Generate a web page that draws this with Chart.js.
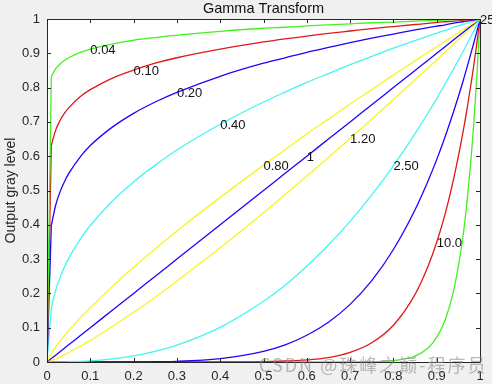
<!DOCTYPE html>
<html>
<head>
<meta charset="utf-8">
<script src="https://cdn.jsdelivr.net/npm/chart.js@4"></script>
<style>
  html, body { margin: 0; padding: 0; background: #f0f0f0; }
  #wrap { width: 492px; height: 384px; position: relative; }
</style>
</head>
<body>
<div id="wrap"><canvas id="gammaChart"></canvas></div>
<script>
// input gray levels where each curve was read
const inputLevels = [0, 0.01, 0.02, 0.03, 0.04, 0.05, 0.08, 0.1, 0.15, 0.2, 0.25, 0.3, 0.4, 0.5, 0.55,
    0.6, 0.65, 0.7, 0.75, 0.8, 0.85, 0.88, 0.9, 0.92, 0.94, 0.96, 0.97, 0.98, 0.985, 0.99, 0.995, 1];

// output gray level for every gamma value
const outG004 = [0, 0.832, 0.855, 0.869, 0.879, 0.887, 0.904, 0.912, 0.927, 0.938, 0.946, 0.953, 0.964, 0.973, 0.976,
    0.980, 0.983, 0.986, 0.989, 0.991, 0.994, 0.995, 0.996, 0.997, 0.998, 0.998, 0.999, 0.999, 0.999, 1.0, 1.0, 1];
const outG010 = [0, 0.631, 0.676, 0.704, 0.725, 0.741, 0.777, 0.794, 0.827, 0.851, 0.871, 0.887, 0.912, 0.933, 0.942,
    0.950, 0.958, 0.965, 0.972, 0.978, 0.984, 0.987, 0.990, 0.992, 0.994, 0.996, 0.997, 0.998, 0.998, 0.999, 0.999, 1];
const outG020 = [0, 0.398, 0.457, 0.496, 0.525, 0.549, 0.603, 0.631, 0.684, 0.725, 0.758, 0.786, 0.833, 0.871, 0.887,
    0.903, 0.917, 0.931, 0.944, 0.956, 0.968, 0.975, 0.979, 0.983, 0.988, 0.992, 0.994, 0.996, 0.997, 0.998, 0.999, 1];
const outG040 = [0, 0.158, 0.209, 0.246, 0.276, 0.302, 0.364, 0.398, 0.468, 0.525, 0.574, 0.618, 0.693, 0.758, 0.787,
    0.815, 0.841, 0.867, 0.891, 0.915, 0.937, 0.950, 0.959, 0.967, 0.976, 0.984, 0.988, 0.992, 0.994, 0.996, 0.998, 1];
const outG080 = [0, 0.025, 0.044, 0.061, 0.076, 0.091, 0.133, 0.158, 0.219, 0.276, 0.330, 0.382, 0.480, 0.574, 0.619,
    0.665, 0.708, 0.752, 0.794, 0.837, 0.878, 0.903, 0.919, 0.935, 0.952, 0.968, 0.976, 0.984, 0.988, 0.992, 0.996, 1];
const outG100 = [0, 0.01, 0.02, 0.03, 0.04, 0.05, 0.08, 0.1, 0.15, 0.2, 0.25, 0.3, 0.4, 0.5, 0.55,
    0.6, 0.65, 0.7, 0.75, 0.8, 0.85, 0.88, 0.9, 0.92, 0.94, 0.96, 0.97, 0.98, 0.985, 0.99, 0.995, 1];
const outG120 = [0, 0.004, 0.009, 0.015, 0.021, 0.027, 0.048, 0.063, 0.103, 0.145, 0.189, 0.236, 0.333, 0.435, 0.488,
    0.542, 0.596, 0.652, 0.708, 0.765, 0.823, 0.858, 0.881, 0.905, 0.928, 0.952, 0.964, 0.976, 0.982, 0.988, 0.994, 1];
const outG250 = [0, 0, 0, 0, 0, 0.001, 0.002, 0.003, 0.009, 0.018, 0.031, 0.049, 0.101, 0.177, 0.224,
    0.279, 0.341, 0.410, 0.487, 0.572, 0.666, 0.726, 0.768, 0.812, 0.857, 0.903, 0.927, 0.951, 0.963, 0.975, 0.988, 1];
const outG500 = [0, 0, 0, 0, 0, 0, 0, 0, 0, 0, 0.001, 0.002, 0.010, 0.031, 0.050,
    0.078, 0.116, 0.168, 0.237, 0.328, 0.444, 0.528, 0.590, 0.659, 0.734, 0.815, 0.859, 0.904, 0.927, 0.951, 0.975, 1];
const outG1000 = [0, 0, 0, 0, 0, 0, 0, 0, 0, 0, 0, 0, 0, 0.001, 0.003,
    0.006, 0.013, 0.028, 0.056, 0.107, 0.197, 0.279, 0.349, 0.434, 0.539, 0.665, 0.737, 0.817, 0.860, 0.904, 0.951, 1];
const outG2500 = [0, 0, 0, 0, 0, 0, 0, 0, 0, 0, 0, 0, 0, 0, 0,
    0, 0, 0, 0.001, 0.004, 0.017, 0.041, 0.072, 0.124, 0.213, 0.360, 0.467, 0.604, 0.685, 0.778, 0.882, 1];

// curve labels (text and where they sit, in data units)
const labelTexts = ["0.04", "0.10", "0.20", "0.40", "0.80", "1", "1.20", "2.50", "10.0", "25.0"];
const labelX = [0.1, 0.2, 0.3, 0.4, 0.5, 0.6, 0.7, 0.8, 0.9, 1.0];
const labelY = [0.912, 0.851, 0.786, 0.693, 0.574, 0.6, 0.652, 0.572, 0.349, 1.0];

const axisColor = "#262626";
const fontFamily = "'Liberation Sans', Arial, sans-serif";

// ✅ Each curve = a straight first step from the origin + a smooth rest
function makeSeries(values, color) {
    const pts = inputLevels.map((x, i) => ({ x: x, y: values[i] }));
    const base = { borderColor: color, borderWidth: 1.3, pointRadius: 0, fill: false };
    return [
        Object.assign({ data: pts.slice(0, 2), tension: 0 }, base),
        Object.assign({ data: pts.slice(1), cubicInterpolationMode: "monotone" }, base)
    ];
}

// ✅ White plot box, frame, inward ticks, title, labels and watermark
const decorPlugin = {
    id: "decor",
    beforeDraw(chart) {
        const a = chart.chartArea;
        const ctx = chart.ctx;
        ctx.save();
        ctx.fillStyle = "#f0f0f0";
        ctx.fillRect(0, 0, chart.width, chart.height);
        ctx.fillStyle = "#ffffff";
        ctx.fillRect(a.left, a.top, a.right - a.left, a.bottom - a.top);
        ctx.restore();
    },
    afterDatasetsDraw(chart) {
        const ctx = chart.ctx;
        const a = chart.chartArea;
        const xs = chart.scales.x;
        const ys = chart.scales.y;
        ctx.save();
        ctx.strokeStyle = axisColor;
        ctx.lineWidth = 1;
        ctx.beginPath();
        ctx.rect(Math.round(a.left) + 0.5, Math.round(a.top) + 0.5,
            Math.round(a.right - a.left), Math.round(a.bottom - a.top));
        for (let i = 0; i <= 10; i++) {
            const px = Math.round(xs.getPixelForValue(i / 10)) + 0.5;
            ctx.moveTo(px, a.bottom); ctx.lineTo(px, a.bottom - 4);
            ctx.moveTo(px, a.top); ctx.lineTo(px, a.top + 4);
            const py = Math.round(ys.getPixelForValue(i / 10)) + 0.5;
            ctx.moveTo(a.left, py); ctx.lineTo(a.left + 4, py);
            ctx.moveTo(a.right, py); ctx.lineTo(a.right - 4, py);
        }
        ctx.stroke();
        ctx.restore();
    },
    afterDraw(chart) {
        const ctx = chart.ctx;
        const a = chart.chartArea;
        const xs = chart.scales.x;
        const ys = chart.scales.y;
        ctx.save();

        // curve labels
        ctx.fillStyle = "#111";
        ctx.font = "13px " + fontFamily;
        ctx.textAlign = "left";
        ctx.textBaseline = "middle";
        labelTexts.forEach((t, i) => {
            ctx.fillText(t, xs.getPixelForValue(labelX[i]), ys.getPixelForValue(labelY[i]) + 1);
        });

        // title
        ctx.font = "14.5px " + fontFamily;
        ctx.textAlign = "center";
        ctx.textBaseline = "alphabetic";
        ctx.fillText("Gamma Transform", (a.left + a.right) / 2, 12.5);

        // y axis label
        ctx.save();
        ctx.translate(11, (a.top + a.bottom) / 2);
        ctx.rotate(-Math.PI / 2);
        ctx.font = "14px " + fontFamily;
        ctx.fillStyle = axisColor;
        ctx.textBaseline = "middle";
        ctx.fillText("Output gray level", 0, 0);
        ctx.restore();

        // watermark
        ctx.font = "18px 'Noto Sans CJK SC', sans-serif";
        ctx.letterSpacing = "2px";
        ctx.fillStyle = "rgba(140, 140, 140, 0.6)";
        ctx.textAlign = "left";
        ctx.textBaseline = "middle";
        ctx.fillText("CSDN @珠峰之巅-程序员", 259, 365);
        ctx.restore();
    }
};

function tickText(value) {
    if (value === 0) return "0";
    if (value === 1) return "1";
    return value.toFixed(1);
}

// ✅ Build the chart
const ctx = document.getElementById("gammaChart").getContext("2d");
const gammaChart = new Chart(ctx, {
    type: "line",
    data: {
        datasets: [].concat(
            makeSeries(outG004, "#44f022"),
            makeSeries(outG010, "#e01818"),
            makeSeries(outG020, "#2200ff"),
            makeSeries(outG040, "#44f4f4"),
            makeSeries(outG080, "#f8f420"),
            makeSeries(outG100, "#2200ff"),
            makeSeries(outG120, "#f8f420"),
            makeSeries(outG250, "#44f4f4"),
            makeSeries(outG500, "#2200ff"),
            makeSeries(outG1000, "#e01818"),
            makeSeries(outG2500, "#44f022")
        )
    },
    options: {
        responsive: true,
        maintainAspectRatio: false,
        animation: false,
        layout: { padding: { top: 19, right: 12, left: 0, bottom: 0 } },
        plugins: {
            legend: { display: false },
            tooltip: { enabled: false },
            title: { display: false }
        },
        scales: {
            x: {
                type: "linear",
                min: 0,
                max: 1,
                afterFit(scale) { scale.height = 22; },
                grid: { display: false, drawTicks: false },
                border: { display: false },
                ticks: {
                    stepSize: 0.1,
                    padding: 7,
                    color: axisColor,
                    maxRotation: 0,
                    callback: tickText,
                    font: { family: fontFamily, size: 13 }
                }
            },
            y: {
                type: "linear",
                min: 0,
                max: 1,
                afterFit(scale) { scale.width = 47; },
                grid: { display: false, drawTicks: false },
                border: { display: false },
                ticks: {
                    stepSize: 0.1,
                    padding: 7,
                    color: axisColor,
                    callback: tickText,
                    font: { family: fontFamily, size: 13 }
                }
            }
        }
    },
    plugins: [decorPlugin]
});
</script>
</body>
</html>
